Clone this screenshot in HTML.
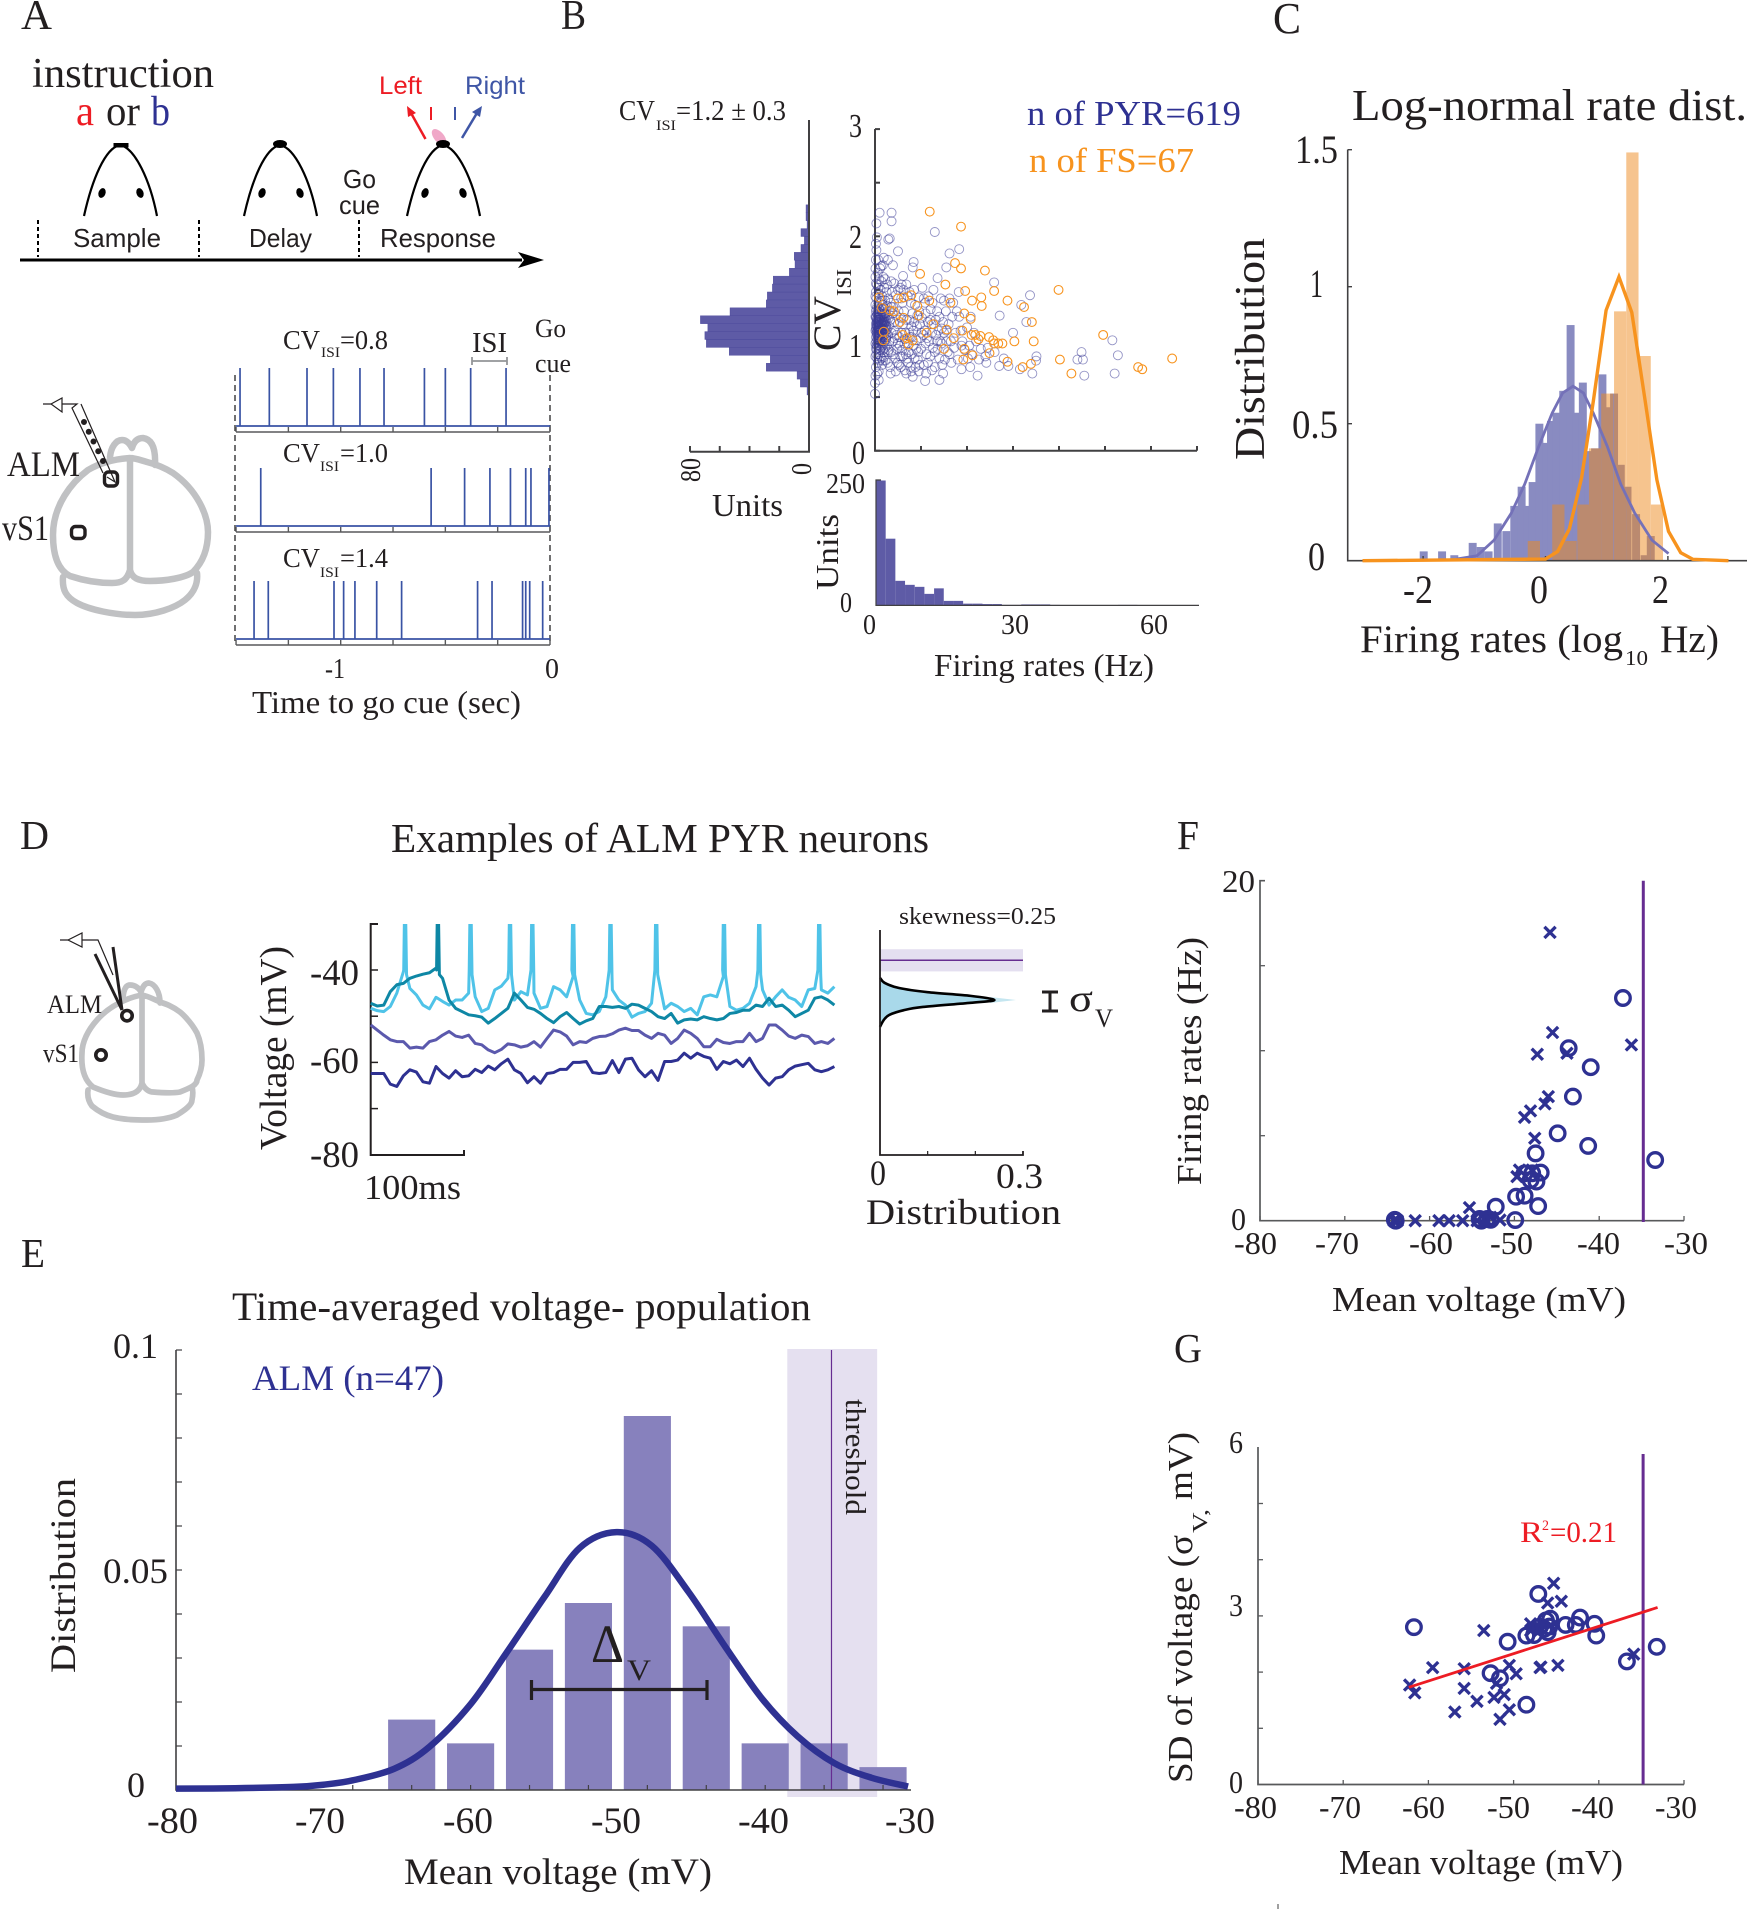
<!DOCTYPE html>
<html lang="en">
<head>
<meta charset="utf-8">
<title>Membrane voltage and firing rate figure</title>
<style>
html,body{margin:0;padding:0;background:#fff}
svg{display:block}
text{font-family:"Liberation Serif","DejaVu Serif",serif;fill:#231f20}
text.sans{font-family:"Liberation Sans","DejaVu Sans",sans-serif}
.ax{stroke:#414042;stroke-width:2;fill:none}
.gb{fill:none;stroke:#c0c1c3;stroke-linejoin:round;stroke-linecap:round}
</style>
</head>
<body>
<svg xmlns="http://www.w3.org/2000/svg" width="1747" height="1909" viewBox="0 0 1747 1909">
<rect width="1747" height="1909" fill="#fff"/>

<!-- PANEL A -->
<g>
<text x="21" y="29" font-size="42" textLength="31">A</text>
<text x="32" y="87" font-size="42" textLength="182">instruction</text>
<text x="76" y="125" font-size="42" textLength="18" style="fill:#ed1c24">a</text>
<text x="106" y="125" font-size="42" textLength="34">or</text>
<text x="151" y="125" font-size="42" textLength="19" style="fill:#2e3192">b</text>
<g>
<path d="M84 216C92 180 105 148 120 145C135 148 150 180 157 216" fill="none" stroke="#000" stroke-width="2.2"/>
<rect x="113.500" y="143" width="15" height="4.500" fill="#000"/>
<ellipse cx="102" cy="193" rx="3.500" ry="5" transform="rotate(20 102 193)"/>
<ellipse cx="140" cy="193" rx="3.500" ry="5" transform="rotate(-20 140 193)"/>
</g>
<g transform="translate(160 0)">
<path d="M84 216C92 180 105 148 120 145C135 148 150 180 157 216" fill="none" stroke="#000" stroke-width="2.2"/>
<ellipse cx="120" cy="144" rx="7" ry="4"/>
<ellipse cx="102" cy="193" rx="3.500" ry="5" transform="rotate(20 102 193)"/>
<ellipse cx="140" cy="193" rx="3.500" ry="5" transform="rotate(-20 140 193)"/>
</g>
<ellipse cx="439" cy="137" rx="5" ry="9.500" fill="#f0a8c8" transform="rotate(-40 439 137)"/>
<g transform="translate(323 0)">
<path d="M84 216C92 180 105 148 120 145C135 148 150 180 157 216" fill="none" stroke="#000" stroke-width="2.2"/>
<ellipse cx="120" cy="144" rx="7" ry="4"/>
<ellipse cx="102" cy="193" rx="3.500" ry="5" transform="rotate(20 102 193)"/>
<ellipse cx="140" cy="193" rx="3.500" ry="5" transform="rotate(-20 140 193)"/>
</g>
<text class="sans" x="379" y="94" font-size="25" textLength="43" style="fill:#ed1c24">Left</text>
<text class="sans" x="465" y="94" font-size="25" textLength="60" style="fill:#3f56a6">Right</text>
<path d="M431 107V120" stroke="#ed1c24" stroke-width="2"/>
<path d="M455 107V120" stroke="#3f56a6" stroke-width="2"/>
<path d="M425.500 139L411 113" stroke="#ed1c24" stroke-width="2.500"/>
<path d="M407 106L416 113L408 117Z" fill="#ed1c24"/>
<path d="M462 138L477 113" stroke="#3f56a6" stroke-width="2.500"/>
<path d="M482 106L480 117L472 112Z" fill="#3f56a6"/>
<text class="sans" x="343" y="188" font-size="26" textLength="33">Go</text>
<text class="sans" x="339" y="214" font-size="26" textLength="41">cue</text>
<text class="sans" x="73" y="247" font-size="26" textLength="88">Sample</text>
<text class="sans" x="249" y="247" font-size="26" textLength="63">Delay</text>
<text class="sans" x="380" y="247" font-size="26" textLength="116">Response</text>
<path d="M38 220V257M199 220V257M359 220V257" stroke="#000" stroke-width="2" stroke-dasharray="4 3"/>
<path d="M20 260H522" stroke="#000" stroke-width="3"/>
<path d="M544 260L518 252L524 260L518 268Z" fill="#000"/>

<g>
<path class="gb" stroke-width="6.500" d="M130 458C115 459 100 463 88 470C72 482 53 505 53 535C53 555 58 570 70 576C85 581 100 583 112 583C122 583 127 580 130 570V458M130 570C132 578 138 581 150 581C165 581 185 578 193 572C203 562 208 548 208 532C208 515 197 490 173 473C165 468 155 464 147 462C140 460 135 458 130 458M110 457C111 447 116 440 122 440C127 440 130 444 132 448C134 441 138 438 143 438C150 439 156 445 155 465M63 577C62 590 66 597 77 603C90 610 115 615 135 615C155 615 175 608 185 600C195 592 198 582 197 573"/>
<rect x="104.500" y="472" width="13" height="14" rx="4" fill="#fff" stroke="#231f20" stroke-width="3.400"/>
<rect x="71.500" y="526.500" width="13.500" height="12" rx="4" fill="none" stroke="#231f20" stroke-width="3.400"/>
<path d="M43 404H51M62 404H77L72 408L103 473M81 404L115 482L107 477" fill="none" stroke="#231f20" stroke-width="1.200"/>
<path d="M51 404L62 398V412Z" fill="#fff" stroke="#231f20" stroke-width="1.200"/>
<path d="M84 422L103 461" stroke="#231f20" stroke-width="6" stroke-linecap="round" stroke-dasharray="0 10.840"/>
<text x="7" y="476" font-size="36" textLength="73">ALM</text>
<text x="2" y="540" font-size="36" textLength="47">vS1</text>
</g>

<text x="283" y="349" font-size="27" textLength="37">CV</text>
<text x="321" y="357" font-size="15" textLength="19">ISI</text>
<text x="340" y="349" font-size="27" textLength="48">=0.8</text>
<text x="283" y="462" font-size="27" textLength="37">CV</text>
<text x="320" y="471" font-size="15" textLength="19">ISI</text>
<text x="340" y="462" font-size="27" textLength="48">=1.0</text>
<text x="283" y="567" font-size="27" textLength="37">CV</text>
<text x="320" y="577" font-size="15" textLength="19">ISI</text>
<text x="340" y="567" font-size="27" textLength="48">=1.4</text>
<text x="472" y="352" font-size="28" textLength="35">ISI</text>
<path d="M472 361H507M472 357V365M507 357V365" fill="none" stroke="#939598" stroke-width="1.800"/>
<text x="535" y="337" font-size="26" textLength="31">Go</text>
<text x="535" y="372" font-size="26" textLength="36">cue</text>
<path d="M235 375V645M550 375V645" fill="none" stroke="#414042" stroke-width="1.500" stroke-dasharray="6 4"/>
<g id="raster"></g>
<text x="325" y="678" font-size="29" textLength="20">-1</text>
<text x="545" y="678" font-size="29" textLength="14">0</text>
<text x="252" y="713" font-size="32" textLength="269">Time to go cue (sec)</text>
</g>

<!-- PANEL B -->
<g>
<text x="561" y="29" font-size="42" textLength="25">B</text>
<text x="619" y="120" font-size="28" textLength="36">CV</text>
<text x="656" y="130" font-size="15" textLength="20">ISI</text>
<text x="676" y="120" font-size="28" textLength="110">=1.2 ± 0.3</text>
<g id="histCv"></g>
<g id="scatterB"></g>
<g id="histRate"></g>
<text x="849" y="137" font-size="34" textLength="13">3</text>
<text x="849" y="248" font-size="34" textLength="13">2</text>
<text x="849" y="357" font-size="34" textLength="13">1</text>
<text x="852" y="464" font-size="34" textLength="13">0</text>
<text transform="translate(840 351) rotate(-90)" font-size="39" textLength="55">CV</text>
<text transform="translate(851 296) rotate(-90)" font-size="21" textLength="27">ISI</text>
<text x="1027" y="125" font-size="35" textLength="214" style="fill:#2e3192">n of PYR=619</text>
<text x="1029" y="172" font-size="35" textLength="165" style="fill:#f7931e">n of FS=67</text>
<text transform="translate(700 482) rotate(-90)" font-size="28" textLength="24">80</text>
<text transform="translate(811 475) rotate(-90)" font-size="28" textLength="12">0</text>
<text x="712" y="516" font-size="32" textLength="71">Units</text>
<text x="826" y="493" font-size="28" textLength="39">250</text>
<text x="840" y="612" font-size="28" textLength="12">0</text>
<text transform="translate(838 590) rotate(-90)" font-size="32" textLength="76">Units</text>
<text x="863" y="634" font-size="29" textLength="13">0</text>
<text x="1001" y="634" font-size="29" textLength="28">30</text>
<text x="1140" y="634" font-size="29" textLength="28">60</text>
<text x="934" y="676" font-size="32" textLength="220">Firing rates (Hz)</text>
</g>

<!-- PANEL C -->
<g>
<text x="1273" y="33" font-size="44" textLength="28">C</text>
<text x="1352" y="120" font-size="44" textLength="395">Log-normal rate dist.</text>
<g id="chartC"></g>
<text x="1295" y="163" font-size="40" textLength="43">1.5</text>
<text x="1310" y="297" font-size="40" textLength="13">1</text>
<text x="1292" y="438" font-size="40" textLength="46">0.5</text>
<text x="1308" y="570" font-size="40" textLength="17">0</text>
<text x="1403" y="603" font-size="40" textLength="30">-2</text>
<text x="1530" y="603" font-size="40" textLength="18">0</text>
<text x="1652" y="603" font-size="40" textLength="17">2</text>
<text transform="translate(1264 460) rotate(-90)" font-size="42" textLength="222">Distribution</text>
<text x="1360" y="652" font-size="39" textLength="263">Firing rates (log</text>
<text x="1625" y="665" font-size="21" textLength="23">10</text>
<text x="1660" y="652" font-size="39" textLength="59">Hz)</text>
</g>

<!-- PANEL D -->
<g>
<text x="20" y="849" font-size="41" textLength="29">D</text>
<text x="391" y="852" font-size="41" textLength="538">Examples of ALM PYR neurons</text>
<g>
<path class="gb" stroke-width="5.700" d="M142 995C130 997 110 1005 97 1020C88 1030 82 1042 82 1053C81 1068 84 1080 93 1087C105 1092 115 1095 123 1095C133 1095 140 1092 142 1083V995M142 1083C145 1090 150 1092 153 1092C165 1093 175 1093 180 1092C190 1088 197 1085 197 1080C201 1072 202 1065 202 1060C202 1050 201 1042 197 1033C190 1020 180 1012 180 1012C172 1006 166 1004 160 1002C153 999 148 996 142 995M123 1000C123 992 125 985 130 985C135 985 139 988 141 992C143 986 145 983 149 983C155 984 160 992 160 1003M88 1090C87 1097 89 1102 92 1106C98 1111 105 1115 113 1117C125 1120 137 1120 147 1120C160 1120 170 1118 177 1115C185 1110 192 1105 192 1100C193 1095 193 1090 192 1087"/>
<circle cx="127" cy="1015.700" r="5.200" fill="#fff" stroke="#231f20" stroke-width="3.600"/>
<circle cx="101" cy="1055" r="5.200" fill="none" stroke="#231f20" stroke-width="3.600"/>
<path d="M60 940H68M82 940H98L113 975" fill="none" stroke="#231f20" stroke-width="1.200"/>
<path d="M68 940L82 933V947Z" fill="#fff" stroke="#231f20" stroke-width="1.200"/>
<path d="M95 954L122 1010M113 947L122 1010" fill="none" stroke="#231f20" stroke-width="3"/>
<text x="47" y="1013" font-size="26" textLength="55">ALM</text>
<text x="43" y="1062" font-size="26" textLength="36">vS1</text>
</g>
<text transform="translate(286 1150) rotate(-90)" font-size="38" textLength="204">Voltage (mV)</text>
<text x="310" y="985" font-size="37" textLength="49">-40</text>
<text x="310" y="1073" font-size="37" textLength="49">-60</text>
<text x="310" y="1167" font-size="37" textLength="49">-80</text>
<text x="364" y="1199" font-size="35" textLength="97">100ms</text>
<g id="traces"></g>
<g id="sideDist"></g>
<text x="899" y="924" font-size="24" textLength="157">skewness=0.25</text>
<path d="M1042 992H1058M1042 1011H1058M1050 992V1011" fill="none" stroke="#231f20" stroke-width="3"/>
<text x="1069" y="1011" font-size="38" textLength="24">σ</text>
<text x="1095" y="1027" font-size="26" textLength="18">V</text>
<text x="870" y="1185" font-size="36" textLength="16">0</text>
<text x="996" y="1188" font-size="36" textLength="47">0.3</text>
<text x="866" y="1224" font-size="36" textLength="195">Distribution</text>
</g>

<!-- PANEL E -->
<g>
<text x="21" y="1267" font-size="41" textLength="24">E</text>
<text x="232" y="1320" font-size="40" textLength="579">Time-averaged voltage- population</text>
<g id="chartE"></g>
<text transform="translate(846 1399) rotate(90)" font-size="28" textLength="116">threshold</text>
<text x="252" y="1390" font-size="36" textLength="192" style="fill:#2e3192">ALM (n=47)</text>
<text x="113" y="1358" font-size="36" textLength="45">0.1</text>
<text x="103" y="1583" font-size="36" textLength="65">0.05</text>
<text x="127" y="1797" font-size="36" textLength="18">0</text>
<text transform="translate(75 1673) rotate(-90)" font-size="36" textLength="195">Distribution</text>
<text x="147" y="1833" font-size="37" textLength="51">-80</text>
<text x="295" y="1833" font-size="37" textLength="50">-70</text>
<text x="443" y="1833" font-size="37" textLength="50">-60</text>
<text x="591" y="1833" font-size="37" textLength="50">-50</text>
<text x="738" y="1833" font-size="37" textLength="51">-40</text>
<text x="885" y="1833" font-size="37" textLength="50">-30</text>
<text x="404" y="1884" font-size="37" textLength="308">Mean voltage (mV)</text>
<text x="591" y="1662" font-size="54" textLength="33">Δ</text>
<text x="627" y="1680" font-size="30" textLength="24">V</text>
<path d="M531.500 1689.500H707M531.500 1680V1700M707 1680V1700" fill="none" stroke="#231f20" stroke-width="3.200"/>
</g>

<!-- PANEL F -->
<g>
<text x="1177" y="849" font-size="41" textLength="22">F</text>
<g id="chartF"></g>
<text x="1222" y="892" font-size="32" textLength="33">20</text>
<text x="1231" y="1230" font-size="32" textLength="15">0</text>
<text transform="translate(1201 1185) rotate(-90)" font-size="35" textLength="248">Firing rates (Hz)</text>
<text x="1234" y="1254" font-size="32" textLength="43">-80</text>
<text x="1315" y="1254" font-size="32" textLength="44">-70</text>
<text x="1409" y="1254" font-size="32" textLength="44">-60</text>
<text x="1490" y="1254" font-size="32" textLength="43">-50</text>
<text x="1577" y="1254" font-size="32" textLength="43">-40</text>
<text x="1664" y="1254" font-size="32" textLength="44">-30</text>
<text x="1332" y="1311" font-size="35" textLength="294">Mean voltage (mV)</text>
</g>

<!-- PANEL G -->
<g>
<text x="1174" y="1362" font-size="41" textLength="28">G</text>
<g id="chartG"></g>
<text x="1520" y="1542" font-size="30" textLength="23" style="fill:#ed1c24">R</text>
<text x="1542" y="1530" font-size="15" textLength="7" style="fill:#ed1c24">2</text>
<text x="1550" y="1542" font-size="30" textLength="67" style="fill:#ed1c24">=0.21</text>
<text x="1229" y="1453" font-size="32" textLength="14">6</text>
<text x="1229" y="1616" font-size="32" textLength="14">3</text>
<text x="1229" y="1793" font-size="32" textLength="14">0</text>
<text transform="translate(1192 1783) rotate(-90)" font-size="35" textLength="248">SD of voltage (σ</text>
<text transform="translate(1207 1533) rotate(-90)" font-size="21" textLength="24">V,</text>
<text transform="translate(1192 1500) rotate(-90)" font-size="35" textLength="68">mV)</text>
<text x="1234" y="1818" font-size="32" textLength="43">-80</text>
<text x="1319" y="1818" font-size="32" textLength="42">-70</text>
<text x="1402" y="1818" font-size="32" textLength="43">-60</text>
<text x="1487" y="1818" font-size="32" textLength="43">-50</text>
<text x="1571" y="1818" font-size="32" textLength="43">-40</text>
<text x="1655" y="1818" font-size="32" textLength="42">-30</text>
<text x="1339" y="1874" font-size="35" textLength="284">Mean voltage (mV)</text>
<path d="M1278 1904V1909" stroke="#414042" stroke-width="1"/>
</g>
</svg>

<script>
/* ---------- data ---------- */
const rasterSpikesRow1 = [-1.481,-1.341,-1.161,-1.035,-.908,-.793,-.6,-.5,-.379,-.21];
const rasterSpikesRow2 = [-1.382,-.568,-.408,-.287,-.189,-.116,-.091,-.005];
const rasterSpikesRow3 = [-1.414,-1.346,-1.032,-.986,-.932,-.828,-.709,-.346,-.277,-.131,-.116,-.097,-.035];
const rasterTicks = [-1.5,-1.25,-1,-.75,-.5,-.25,0];

const cvBinStart = .52;
const cvBinWidth = .0739;
const cvCounts = [1.3,5.8,8,28.7,26,53.6,69,70,68,73,53.1,28.7,28,24.6,24,13.2,9.4,9.9,5.4,3.1,5.4,1.3,2,2];

const rateBinWidth = 2.1;
const rateCounts = [249,133,49,41,37,23,34,9,9,3.5,3.5,2.7,2.7,1,1,2,2,2,1,0,0,.5,0,0,.5,1,1,0,0,0,.5,0,0];

const fsRate = [11.9,18.7,17.4,18.7,9.8,23.9,15.3,19.6,25.9,39.9,.9,5,6.3,7.9,11.8,21.1,23.1,23.2,28.8,16.4,9.2,1.5,3.2,4.1,9.5,19.4,20.8,32.4,34.1,6.2,5.4,12.7,15.6,1.9,11.2,19,21,17.1,21.8,22.9,22.5,24.8,25.7,26.8,27.7,30.3,34.5,6,6.9,8.2,7.3,1.8,15,19.4,49.6,24.9,21.2,19.2,28.8,40.2,33.9,32.1,64.6,57.2,58.1,42.7,25.9];
const fsCv = [2.23,2.09,1.75,1.7,1.65,1.68,1.55,1.49,1.49,1.5,1.43,1.42,1.43,1.45,1.4,1.4,1.43,1.35,1.4,1.38,1.35,1.33,1.31,1.3,1.26,1.28,1.23,1.34,1.2,1.24,1.2,1.18,1.13,1.11,1.1,1.12,1.08,1.05,1.08,1.07,1.04,1.06,1.03,1,1,1.02,1.02,1.08,1.05,1.03,.99,1.03,.95,.95,1.08,.91,.89,.85,.83,.85,.81,.78,.86,.78,.76,.72,1];

const pyrPoints = [
[1,2.22],[3.6,2.22],[3.6,2.14],[.3,2.12],[13,2.04],[2.9,1.97],[3.2,1.98],[.4,1.99],[.2,1.93],[.3,1.87],[5,1.86],[18.3,1.88],[16.2,1.84],[.2,1.78],[1.9,1.8],[2.8,1.78],[3.9,1.73],[1.7,1.73],[8.4,1.76],[8.2,1.71],[15.5,1.71],[13.6,1.61],[6.1,1.63],[25.9,1.57],[33.7,1.45],[31.8,1.36],[27.1,1.26],[32.9,1.2],[30,1.1],[44.9,.92],[51.6,1.03],[52.8,.89],[44,.85],[45.2,.85],[52.1,.72],[45.5,.7],[35.1,.88],[35,.84],[34.2,.72],[31.5,.76],[29,.79],[27,.79],[24.2,.82],[22.3,.7],[20.7,.78],[18.8,.76],[14,.66],[10.9,.65],[11.1,.72],[8.2,.69],[.8,.66],[0,.63],[0,.53],
[.3,1.02],[.5,1.1],[.8,1.15],[1,1.2],[1.3,1.12],[1.6,1.18],[1.9,1.25],[2.2,1.14],[2.5,1.2],[2.8,1.08],[.2,1.18],[.6,1.24],[1.1,1.28],[1.5,1.05],[1.8,1.1],[2.1,1.02],[2.4,1.28],[3,1.16],[3.3,1.22],[.4,.95],[.9,1],[1.2,.94],[1.7,.98],[2,.92],[2.6,.98],[3.1,1.02],[.1,.88],[.7,.9],[1.4,.86],[2.3,.84],[.2,1.3],[.5,1.35],[.9,1.38],[1.3,1.33],[1.7,1.36],[2.2,1.4],[2.7,1.35],[3.2,1.3],[.3,1.42],[.8,1.47],[1.2,1.5],[1.6,1.44],[2,1.52],[2.5,1.48],[.4,1.55],[.9,1.6],[1.4,1.58],[.1,1.62],[.6,1.66],[1.1,1.7],[.2,1.48],[1.8,1.62],
[.4,1.08],[.7,1.13],[1,1.1],[1.2,1.17],[1.5,1.14],[1.8,1.16],[2.1,1.2],[2.3,1.09],[2.6,1.13],[.1,1.12],[.3,1.16],[.6,1.19],[.9,1.22],[1.2,1.24],[1.5,1.22],[1.7,1.27],[2,1.18],[2.4,1.16],[.5,1.04],[.8,1.07],[1.1,1.05],[1.4,1.09],[1.7,1.06],[2,1.08],[.2,1.06],[.5,1.28],[.8,1.3],[1.4,1.27],[.3,.98],[.6,1.01],[1,1.03],[1.3,1],[1.6,1.02],[2.4,1.04],[.6,1.12],[.9,1.16],[1.1,1.13],[1.3,1.2],[1.5,1.17],[.4,1.22],[.7,1.2],[1,1.25],[.4,1.12],[.8,1.1],[1.2,1.08],[1.6,1.1],[2,1.13],[2.2,1.25],[.5,.86],[1,.84],[1.5,.8],[.2,.78],[.8,.74],[1.9,.87],[.1,.7],[.5,.72],[2.8,.82],[3.3,.78],[.3,1.25],[.1,1.36],[.1,1.44],[.7,1.52],[1.5,1.4],[2.9,1.42],[3.4,1.38],[3.6,1.1],[3.8,1.28],[.2,1.56],[2.2,1.6],[2.7,1.55],[1.3,1.72],[.7,1.78],[.1,1.7],
[.2,1.14],[.5,1.16],[.7,1.08],[.9,1.12],[1.1,1.18],[1.3,1.15],[1.5,1.1],[1.7,1.13],[1.9,1.19],[2.1,1.11],[2.3,1.17],[2.5,1.06],[.3,1.2],[.6,1.15],[.8,1.22],[1,1.16],[1.2,1.12],[1.4,1.18],[1.6,1.24],[1.8,1.21],[.2,1.24],[.4,1.18],[.6,1.06],[.8,1.18],[1,1.07],[1.2,1.02],[1.4,1.13],[1.6,1.07],[1.8,1.03],[2,1.22],[.3,1.1],[.5,1.2],[.7,1.26],[.9,1.08],[1.1,1.22],[1.3,1.25],[1.5,1.3],[1.7,1.2],[1.9,1.33],[2.1,1.28],[.1,1.25],[.3,1.32],[.6,1.3],[.9,1.32],[1.2,1.4],[1.6,1.32],[2.6,1.26],[3,1.24],[.2,.95],[.5,.98],[.8,.96],[1.1,.98],[1.4,.96],[1.8,.94],[2.2,.96],[2.8,.92],[.1,1],[.3,.9],[.6,.82],[1.2,.88],[1.7,.84],[3,.94],
[3.5,.92],[4,1.34],[4.2,1.05],[4.5,1.45],[4.8,.95],[5,1.18],[5.2,.8],[5.5,1.52],[5.8,1.1],[6,.88],[6.3,1.3],[6.5,.75],[6.8,1.55],[7,1],[7.2,.82],[7.5,1.22],[7.8,1.38],[8,.9],[8.3,1.12],[8.5,1.5],[8.8,.78],[9,1.03],[9.3,.85],[9.5,1.43],[9.8,1.18],[10,.95],[10.3,1.52],[10.6,.8],[11,1.28],[11.3,1.05],[11.6,1.44],[12,.88],[12.3,1.18],[12.7,1.5],[13,.78],[13.3,1.08],[13.6,.95],[14,1.25],[14.3,1.42],[14.6,.8],[15,1.1],[15.4,1.3],[15.8,.92],[16,1.18],[16.5,1.02],[17,1.38],[17.5,1.1],[18,.85],[18.3,1.25],[19,1.02],[19.5,.94],[20,1.15],[20.5,.98],[21,.9],[21.5,1.1],[22,1.02],[23,.95],[24,.88],
[3.7,1.48],[4.1,1.2],[4.4,.86],[4.7,1.08],[5.1,1.3],[5.4,.98],[5.7,1.42],[6.1,1.18],[6.4,1],[6.7,.9],[7.1,1.44],[7.4,1.1],[7.7,.78],[8.1,1.28],[8.4,.98],[8.7,1.36],[9.1,1.16],[9.4,.92],[9.9,1.05],[10.2,1.24],[10.8,1.12],[11.2,.9],[11.8,1.02],[12.1,1.32],[12.6,.96],[13.2,1.22],[13.8,1.12],[14.2,1.02],[14.8,1.2],[15.2,.85],[16.2,1.42],[16.8,1.25],[17.8,1.3],[18.6,1.12],[3.9,1.02],[4.3,1.12],[4.9,.82],[5.3,1.06],[5.6,1.24],[5.9,.94],[6.2,1.5],[6.6,1.1],[6.9,1.22],[7.3,.92],[7.6,1.06],[7.9,1.16],[8.6,.86],[9.2,1.26],[9.7,.8],[10.5,1.08],[10.9,1.38],[11.5,1.2],[12.4,1.1],[13.5,1.02],[14.5,1.14],[15.6,1.02],[17.2,.96],[18.8,.98],[20.2,.86],[20.8,1.25],[22.6,.85],[24.5,.96],[26,.92],[28,.86],
[3.6,1.34],[4,.9],[4.6,1.26],[5,1],[5.5,.88],[6,1.38],[6.5,1.04],[7,.86],[7.5,1.48],[8,1.06],[8.5,1.2],[9,.95],[9.6,1.3],[10.1,1.1],[10.6,1.42],[11,1],[11.5,.82],[12,1.22],[12.5,1.38],[13,.92],[13.5,1.3],[14,.86],[14.5,1],[15,1.4],[15.5,1.12],[16.2,.9],[3.5,1.58],[4.2,1.56],[5,1.5],[5.8,1.55],[3.4,.72],[4.5,.74],[5.6,.78],[6.8,.72],[7.9,.74],[9.5,.74],[12.4,.75],[14.8,.72],[16.6,.82],[18.2,1.48]
];

const cBlueCenters = [-1.99,-1.69,-1.49,-1.19,-1.06,-.93,-.78,-.64,-.51,-.39,-.29,-.21,-.1,.01,.09,.18,.29,.41,.51,.61,.71,.81,.93,1.02,1.12,1.23,1.34,1.48,1.62,1.72];
const cBlueHeights = [.034,.034,.02,.065,.05,.034,.136,.108,.2,.27,.2,.287,.5,.43,.51,.54,.62,.86,.54,.65,.4,.41,.68,.56,.61,.35,.27,.17,.02,.09];
const cOrangeCenters = [-.19,.21,.41,.62,.81,1.01,1.22,1.42,1.62,1.82];
const cOrangeHeights = [.072,.205,.072,.205,.41,.61,.91,1.49,.747,.205];
const cBlueCurveX = [-1.45,-1.12,-.84,-.56,-.34,-.11,.11,.28,.45,.62,.78,1.01,1.23,1.46,1.74,2.01];
const cBlueCurveY = [.006,.018,.075,.173,.279,.417,.539,.612,.637,.612,.539,.417,.279,.173,.075,.026];
const cOrangeCurveX = [-2.99,0,.2,.39,.59,.78,.99,1.2,1.41,1.62,1.82,2.01,2.21,2.41,2.99];
const cOrangeCurveY = [0,.006,.034,.116,.303,.58,.914,1.036,.906,.596,.295,.107,.029,.005,0];

const traceStepMs = 7;
const traceNavy = [-62.4,-62.4,-62.4,-64.7,-65.2,-62.9,-61.6,-62.1,-64.2,-64.5,-60.9,-62.4,-63.4,-61.8,-63.1,-62.9,-61.5,-62.2,-60.8,-61.6,-60.3,-59.3,-61.6,-62.4,-64.4,-63.1,-64.5,-62.4,-62.2,-61.5,-61.5,-60,-60,-59.8,-62.2,-62.4,-62.2,-59.6,-62.2,-59.3,-59.1,-61.6,-63.1,-61.8,-63.9,-59.8,-59.8,-59.5,-58,-59.1,-58,-58.7,-59.1,-61.5,-59.8,-60.3,-59.5,-60.9,-59.1,-61.5,-63.4,-64.9,-63.4,-63.1,-61.6,-60.8,-60.5,-60.2,-61.6,-62,-61.6,-60.9];
const tracePurple = [-51.9,-53,-54.1,-55.1,-55.5,-55.5,-56.9,-56.7,-56.9,-55.5,-55.1,-54.1,-53.3,-54.3,-54.6,-54.1,-55.9,-56.2,-57.3,-57.9,-57.2,-56,-56.2,-56.7,-56.4,-55.5,-56.7,-54.8,-53,-53.4,-54.3,-56.2,-55.5,-55.7,-54.8,-54.4,-54.3,-53.8,-53,-52.6,-53.1,-53.1,-54.1,-54.8,-53.7,-54.1,-55.9,-54.8,-53,-53.7,-54.8,-56.6,-56.6,-55,-55.7,-55.9,-55.5,-55.5,-53.7,-55.5,-54.8,-51.9,-51.9,-53,-54.3,-54.8,-54.1,-54.4,-55.9,-55.5,-55.9,-54.8];
const traceTeal = [-47.2,-47.8,-47.6,-44.7,-43.2,-42.9,-41.8,-41.3,-40.9,-40.6,-39.6,-41.8,-46.5,-48.3,-49,-49.7,-49.9,-50.2,-51.5,-50.5,-49.4,-48.3,-45,-46.5,-48.1,-48.5,-49.4,-50.5,-51.4,-50.1,-49.2,-50.5,-51.7,-51,-50.5,-47.9,-47.9,-48.1,-47.9,-48.3,-47.4,-47.6,-48.3,-49,-50.1,-50.5,-49.4,-51.5,-50.8,-50.6,-50.8,-50.1,-50.5,-50.8,-50.5,-49.4,-49.2,-48.7,-48.7,-47.6,-47.9,-46.1,-47.9,-47.6,-48.7,-50.1,-49.4,-48.7,-46.1,-45.8,-46.5,-47.6];
const traceCyan = [-48.3,-48.8,-49,-47.9,-45,-40.4,-44,-45.4,-47.6,-48.4,-45.9,-46.8,-47.6,-46.5,-46.5,-45,-45.8,-49,-48.3,-44.3,-43.5,-41.8,-46.5,-44.7,-45.4,-45,-48.3,-47.9,-43.6,-44.3,-45.8,-41.4,-46.5,-49.4,-49.7,-49,-45.8,-44.3,-46.5,-47.6,-50.2,-49.4,-49,-47.2,-41.4,-48.4,-47.2,-47.9,-49,-48.3,-49.7,-45.8,-45.4,-45.8,-41.4,-47.9,-48.7,-48.3,-47.2,-43.6,-44.3,-47.6,-45.8,-44.3,-45.9,-46.5,-47.9,-44.3,-44,-44.3,-45,-43.6];
const tealSpikeTimes = [72];
const cyanSpikeTimes = [36.8,107,149.3,173.2,217,257,306,378.6,416.4,480.7];
const voltageTicks = [-30,-40,-50,-60,-70,-80];

const sideVoltage = [-41.7,-42.8,-43.9,-44.8,-45.6,-46.5,-47.1,-48,-48.7,-49.7,-50.8,-52.3];
const sideDensity = [0,.01,.04,.1,.19,.24,.19,.09,.05,.02,.008,0];
const sideThreshold = -37.9;
const sideThresholdBand = [-35.5,-40.3];

const eBinCenters = [-64,-60,-56,-52,-48,-44,-40,-36,-32];
const eBinHeights = [.016,.0106,.0319,.0425,.085,.0372,.0106,.0106,.0052];
const eBinWidth = 3.2;
const eCurveX = [-80,-76,-72,-70,-68,-65.2,-62.8,-60,-57.6,-55,-52.6,-50.1,-47.7,-45.2,-42.7,-40.2,-37.8,-35.3,-32.8,-30.3];
const eCurveY = [.0003,.0004,.0007,.0012,.0022,.0048,.0098,.0195,.031,.0438,.055,.0586,.0555,.045,.0325,.0207,.0122,.0061,.0028,.0008];
const eThreshold = -35.5;
const eThresholdBand = [-38.5,-32.4];

const fCircleV = [-37.2,-33.4,-43.6,-41,-43.1,-44.9,-41.3,-47.5,-46.9,-48.8,-48.1,-47.4,-47.9,-49.8,-48.8,-47.2,-52.2,-49.9,-64,-64.1,-54.1,-53.2,-52.8,-53.9];
const fCircleRate = [13.1,3.57,10.15,9.03,7.3,5.14,4.4,3.96,2.83,2.79,2.39,2.3,2.79,1.41,1.47,.86,.82,.04,0,.05,.1,.1,.05,0];
const fCrossV = [-45.8,-45.5,-36.2,-47.3,-43.8,-46,-46.4,-48.1,-48.8,-47.6,-49.4,-49.7,-47.9,-55.3,-61.7,-58.9,-57.7,-56.1,-64.2,-63.8,-51.7,-54.4,-53.5,-52.8];
const fCrossRate = [16.96,11.07,10.34,9.79,9.85,7.3,6.87,6.46,6.08,4.85,2.98,2.59,2.98,.77,0,0,0,0,0,0,.04,0,.1,.2];
const gCircleV = [-61.7,-47.1,-50.7,-48.5,-47.6,-46.9,-46.2,-45.7,-46,-43.9,-42.7,-42.2,-40.5,-40.3,-52.7,-51.6,-48.5,-36.7,-33.2,-46.4,-45.8];
const gCircleSd = [2.8,3.39,2.54,2.65,2.66,2.81,2.92,2.95,2.71,2.84,2.84,2.97,2.86,2.65,1.98,1.89,1.42,2.19,2.45,2.77,2.81];
const gCrossV = [-45.3,-46,-44.4,-53.5,-48,-59.5,-55.8,-62.2,-61.6,-55.8,-54.3,-56.9,-52.3,-51.1,-50.5,-51.6,-50.5,-49.7,-52,-46.8,-44.8,-46.9,-35.9,-48,-47.8,-47.1];
const gCrossSd = [3.58,3.23,3.26,2.74,2.86,2.08,2.06,1.77,1.63,1.71,1.48,1.29,1.55,1.6,1.33,1.16,2.12,1.97,1.8,2.09,2.12,2.08,2.32,2.74,2.77,2.81];
const gFitV = [-62.3,-33.1];
const gFitSd = [1.73,3.15];
const popThreshold = -34.8;
const voltageAxisTicks = [-80,-70,-60,-50,-40,-30];

/* ---------- helpers ---------- */
const NS = 'http://www.w3.org/2000/svg';
function add(parent, tag, attrs) {
  const el = document.createElementNS(NS, tag);
  for (const k in attrs) el.setAttribute(k, attrs[k]);
  parent.appendChild(el);
  return el;
}
function polyD(xs, ys) {
  return xs.map((x, i) => (i ? 'L' : 'M') + x.toFixed(2) + ' ' + ys[i].toFixed(2)).join('');
}
function smoothD(xs, ys) {
  let d = 'M' + xs[0].toFixed(2) + ' ' + ys[0].toFixed(2);
  for (let i = 0; i < xs.length - 1; i++) {
    const a = Math.max(i - 1, 0), b = Math.min(i + 2, xs.length - 1);
    d += 'C' + (xs[i] + (xs[i + 1] - xs[a]) / 6).toFixed(2) + ' ' + (ys[i] + (ys[i + 1] - ys[a]) / 6).toFixed(2) + ' '
       + (xs[i + 1] - (xs[b] - xs[i]) / 6).toFixed(2) + ' ' + (ys[i + 1] - (ys[b] - ys[i]) / 6).toFixed(2) + ' '
       + xs[i + 1].toFixed(2) + ' ' + ys[i + 1].toFixed(2);
  }
  return d;
}
const $ = id => document.getElementById(id);

/* ---------- panel A raster ---------- */
const rasterX = t => 550 + t * 209.3;
[rasterSpikesRow1, rasterSpikesRow2, rasterSpikesRow3].forEach((spikes, r) => {
  const top = [368, 468, 581][r], base = [426, 526, 639][r], axisY = [432, 532, 645][r];
  spikes.forEach(t => {
    const el = add($('raster'), 'line', {x1: rasterX(t), x2: rasterX(t), y1: top, y2: base, stroke: '#3953a4', 'stroke-width': 1.7});
    
    
  });
  const bl = add($('raster'), 'line', {x1: rasterX(-1.5), x2: rasterX(0), y1: base, y2: base, stroke: '#3953a4', 'stroke-width': 1.7});
  
  
  const ax = add($('raster'), 'line', {x1: rasterX(-1.5), x2: rasterX(0), y1: axisY, y2: axisY, stroke: '#58595b', 'stroke-width': 1.6});
  
  
  rasterTicks.forEach(t => {
    const tk = add($('raster'), 'line', {x1: rasterX(t), x2: rasterX(t), y1: axisY, y2: axisY - 5, stroke: '#58595b', 'stroke-width': 1.4});
    
    
  });
});

/* ---------- panel B ---------- */
const yCv = c => 450.7 - c * 107.2;
const xUnits = u => 809 - u * 119 / 80;
cvCounts.forEach((u, i) => {
  const y2 = yCv(cvBinStart + i * cvBinWidth), y1 = yCv(cvBinStart + (i + 1) * cvBinWidth);
  const el = add($('histCv'), 'rect', {x: xUnits(u), y: y1, width: 809 - xUnits(u), height: y2 - y1, fill: '#5e5ba6', stroke: '#4a479a', 'stroke-width': .4});
  
  
});
{
  const ax = add($('histCv'), 'path', {class: 'ax', d: 'M809 120V451.700H690'});
  
  
  [0, 20, 40, 60, 80].forEach(u => {
    const tk = add($('histCv'), 'line', {class: 'ax', x1: xUnits(u), x2: xUnits(u), y1: 451.7, y2: 446});
    
    
  });
}
const xRate = r => 875 + r * 4.6;
{
  const ax = add($('scatterB'), 'path', {class: 'ax', d: 'M875 129V450.700H1197'});
  
  
  [0, .5, 1, 1.5, 2, 2.5, 3].forEach(c => {
    const tk = add($('scatterB'), 'line', {class: 'ax', x1: 875, x2: 880, y1: yCv(c), y2: yCv(c)});
    
    
  });
  [10, 20, 30, 40, 50, 60, 70].forEach(r => {
    const tk = add($('scatterB'), 'line', {class: 'ax', x1: xRate(r), x2: xRate(r), y1: 450.7, y2: 446});
    
    
  });
}
pyrPoints.forEach(p => {
  const el = add($('scatterB'), 'circle', {cx: xRate(p[0]), cy: yCv(p[1]), r: 4.5, fill: 'none', stroke: '#3b3a96', 'stroke-opacity': .55, 'stroke-width': .9});
  
  
});
fsRate.forEach((r, i) => {
  const el = add($('scatterB'), 'circle', {cx: xRate(r), cy: yCv(fsCv[i]), r: 4.4, fill: 'none', stroke: '#f7931e', 'stroke-width': 1.1});
  
  
});
const xRateHist = r => 876 + r * 4.61;
const yRateHist = c => 605.4 - c * 125.4 / 250;
rateCounts.forEach((c, i) => {
  const x = xRateHist(i * rateBinWidth);
  const el = add($('histRate'), 'rect', {x: x, y: yRateHist(c), width: rateBinWidth * 4.61, height: c * 125.4 / 250, fill: '#5e5ba6'});
  
  
});
{
  const ax = add($('histRate'), 'path', {fill: 'none', stroke: '#414042', 'stroke-width': 1.2, d: 'M881 480H876V605.400H1199'});
  
  
}

/* ---------- panel C ---------- */
const xC = v => 1545.5 + v * 61.2;
const yC = h => 560.7 - h * 274;
{
  const blue = add($('chartC'), 'g', {opacity: .56});
  
  
  cBlueCenters.forEach((c, i) => {
    const el = add(blue, 'rect', {x: xC(c - .065), y: yC(cBlueHeights[i]), width: .13 * 61.2, height: cBlueHeights[i] * 274, fill: '#2e3192'});
    
    
  });
  const orange = add($('chartC'), 'g', {opacity: .5});
  
  
  cOrangeCenters.forEach((c, i) => {
    const el = add(orange, 'rect', {x: xC(c - .1), y: yC(cOrangeHeights[i]), width: .2 * 61.2, height: cOrangeHeights[i] * 274, fill: '#ee8a20'});
    
    
  });
  const ax = add($('chartC'), 'path', {fill: 'none', stroke: '#414042', 'stroke-width': 1.6, d: 'M1347.700 149.600V560.700H1747'});
  
  
  [0, .5, 1, 1.5].forEach(h => {
    const tk = add($('chartC'), 'line', {x1: 1347.7, x2: 1352, y1: yC(h), y2: yC(h), stroke: '#414042', 'stroke-width': 1.4});
    
    
  });
  [-2, 0, 2].forEach(v => {
    const tk = add($('chartC'), 'line', {x1: xC(v), x2: xC(v), y1: 560.7, y2: 556, stroke: '#414042', 'stroke-width': 1.4});
    
    
  });
  const bc = add($('chartC'), 'path', {d: polyD(cBlueCurveX.map(xC), cBlueCurveY.map(yC)), fill: 'none', stroke: '#7471b8', 'stroke-width': 2.8});
  
  
  const oc = add($('chartC'), 'path', {d: polyD(cOrangeCurveX.map(xC), cOrangeCurveY.map(yC)), fill: 'none', stroke: '#f7931e', 'stroke-width': 3.4});
  
  
}

/* ---------- panel D traces ---------- */
const yV = v => 970 - (v + 40) * 4.62;
const xMs = t => 370.7 + t * .933;
function traceD(values, spikes) {
  const xs = [], ys = [];
  let s = 0;
  values.forEach((v, i) => {
    const t = i * traceStepMs;
    while (s < spikes.length && spikes[s] < t) {
      const st = spikes[s];
      xs.push(xMs(st - 1.4), xMs(st - .4), xMs(st + .4), xMs(st + 1.6));
      ys.push(yV(-40), yV(-25), yV(-25), yV(-41));
      s++;
    }
    xs.push(xMs(t));
    ys.push(yV(v));
  });
  return polyD(xs, ys);
}
{
  const defs = add($('traces'), 'clipPath', {id: 'traceClip'});
  add(defs, 'rect', {x: 365, y: 924, width: 480, height: 240});
  const ax = add($('traces'), 'path', {fill: 'none', stroke: '#231f20', 'stroke-width': 2, d: 'M378 924H370.700V1155H464V1150'});
  
  
  voltageTicks.forEach(v => {
    const tk = add($('traces'), 'line', {x1: 370.7, x2: 378, y1: yV(v), y2: yV(v), stroke: '#231f20', 'stroke-width': 1.5});
    
    
  });
  const g = add($('traces'), 'g', {'clip-path': 'url(#traceClip)', fill: 'none', 'stroke-width': 3, 'stroke-linejoin': 'round'});
  
  
  const c = add(g, 'path', {d: traceD(traceCyan, cyanSpikeTimes), stroke: '#4fc3e8'});
  
  
  const t = add(g, 'path', {d: traceD(traceTeal, tealSpikeTimes), stroke: '#0e87a5'});
  
  
  const p = add(g, 'path', {d: traceD(tracePurple, []), stroke: '#5b59ad'});
  
  
  const n = add(g, 'path', {d: traceD(traceNavy, []), stroke: '#2e3192'});
  
  
}

/* ---------- panel D side distribution ---------- */
const xDens = p => 880 + p / .3 * 143;
{
  const band = add($('sideDist'), 'rect', {x: 880, y: yV(sideThresholdBand[0]), width: 143, height: yV(sideThresholdBand[1]) - yV(sideThresholdBand[0]), fill: '#e4dff0'});
  
  
  const line = add($('sideDist'), 'line', {x1: 880, x2: 1023, y1: yV(sideThreshold), y2: yV(sideThreshold), stroke: '#662d91', 'stroke-width': 1.5});
  
  
  const xs = sideDensity.map(xDens), ys = sideVoltage.map(yV);
  const curve = smoothD(xs, ys);
  const tail = add($('sideDist'), 'path', {d: 'M990 997L1016 1000L990 1003Z', fill: '#c5e6f0'});
  
  
  const fill = add($('sideDist'), 'path', {d: curve + 'Z', fill: '#a9d9ea'});
  
  
  const st = add($('sideDist'), 'path', {d: curve, fill: 'none', stroke: '#000', 'stroke-width': 2.6});
  
  
  const ax = add($('sideDist'), 'path', {fill: 'none', stroke: '#231f20', 'stroke-width': 1.8, d: 'M880 930V1155H1023V1151'});
  
  
  [.1, .2].forEach(p => {
    const tk = add($('sideDist'), 'line', {x1: xDens(p), x2: xDens(p), y1: 1155, y2: 1151, stroke: '#231f20', 'stroke-width': 1.2});
    
    
  });
}

/* ---------- panel E ---------- */
const xE = v => 176 + (v + 80) * 14.73;
const yE = p => 1790 - p * 4400;
{
  const band = add($('chartE'), 'rect', {x: xE(eThresholdBand[0]), y: 1349, width: xE(eThresholdBand[1]) - xE(eThresholdBand[0]), height: 448, fill: '#e5e0f0'});
  
  
  eBinCenters.forEach((c, i) => {
    const el = add($('chartE'), 'rect', {x: xE(c - eBinWidth / 2), y: yE(eBinHeights[i]), width: eBinWidth * 14.73, height: eBinHeights[i] * 4400, fill: '#8781bd'});
    
    
  });
  const th = add($('chartE'), 'line', {x1: xE(eThreshold), x2: xE(eThreshold), y1: 1350, y2: 1790, stroke: '#662d91', 'stroke-width': 1.2});
  
  
  const ax = add($('chartE'), 'path', {fill: 'none', stroke: '#414042', 'stroke-width': 1.6, d: 'M176 1350V1790H911'});
  
  
  [.01, .02, .03, .04, .05, .06, .07, .08, .09, .1].forEach(p => {
    const tk = add($('chartE'), 'line', {x1: 176, x2: 182, y1: yE(p), y2: yE(p), stroke: '#414042', 'stroke-width': 1.2});
    
    
  });
  [-76, -72, -68, -64, -60, -56, -52, -48, -44, -40, -36, -32].forEach(v => {
    const tk = add($('chartE'), 'line', {x1: xE(v), x2: xE(v), y1: 1790, y2: 1785, stroke: '#414042', 'stroke-width': 1.2});
    
    
  });
  const curve = add($('chartE'), 'path', {d: smoothD(eCurveX.map(xE), eCurveY.map(yE)), fill: 'none', stroke: '#2e3192', 'stroke-width': 6.5});
  
  
}

/* ---------- panels F and G ---------- */
const xF = v => 1260 + (v + 80) * 8.48;
const yF = r => 1220.7 - r * 17;
const xG = v => 1258 + (v + 80) * 8.52;
const yG = s => 1784.5 - s * 56.2;
function crossD(x, y) {
  const h = 5.6;
  return 'M' + (x - h) + ' ' + (y - h) + 'L' + (x + h) + ' ' + (y + h) + 'M' + (x - h) + ' ' + (y + h) + 'L' + (x + h) + ' ' + (y - h);
}
{
  const ax = add($('chartF'), 'path', {fill: 'none', stroke: '#58595b', 'stroke-width': 1.7, d: 'M1265 880.700H1260V1220.700H1684'});
  
  
  [5, 10, 15].forEach(r => {
    const tk = add($('chartF'), 'line', {x1: 1260, x2: 1265, y1: yF(r), y2: yF(r), stroke: '#58595b', 'stroke-width': 1.3});
    
    
  });
  voltageAxisTicks.forEach(v => {
    const tk = add($('chartF'), 'line', {x1: xF(v), x2: xF(v), y1: 1220.7, y2: 1216, stroke: '#58595b', 'stroke-width': 1.3});
    
    
  });
  const th = add($('chartF'), 'line', {x1: xF(popThreshold), x2: xF(popThreshold), y1: 880.7, y2: 1222, stroke: '#662d91', 'stroke-width': 3});
  
  
  fCrossV.forEach((v, i) => {
    const el = add($('chartF'), 'path', {d: crossD(xF(v), yF(fCrossRate[i])), fill: 'none', stroke: '#2e3192', 'stroke-width': 3.3});
    
    
  });
  fCircleV.forEach((v, i) => {
    const el = add($('chartF'), 'circle', {cx: xF(v), cy: yF(fCircleRate[i]), r: 7.3, fill: 'none', stroke: '#2e3192', 'stroke-width': 3.3});
    
    
  });

  const axG = add($('chartG'), 'path', {fill: 'none', stroke: '#58595b', 'stroke-width': 1.7, d: 'M1258 1447V1784.500H1684'});
  
  
  [1, 2, 3, 4, 5].forEach(s => {
    const tk = add($('chartG'), 'line', {x1: 1258, x2: 1263, y1: yG(s), y2: yG(s), stroke: '#58595b', 'stroke-width': 1.3});
    
    
  });
  voltageAxisTicks.forEach(v => {
    const tk = add($('chartG'), 'line', {x1: xG(v), x2: xG(v), y1: 1784.5, y2: 1780, stroke: '#58595b', 'stroke-width': 1.3});
    
    
  });
  const thG = add($('chartG'), 'line', {x1: xG(popThreshold), x2: xG(popThreshold), y1: 1454, y2: 1784.5, stroke: '#662d91', 'stroke-width': 3});
  
  
  gCrossV.forEach((v, i) => {
    const el = add($('chartG'), 'path', {d: crossD(xG(v), yG(gCrossSd[i])), fill: 'none', stroke: '#2e3192', 'stroke-width': 3.3});
    
    
  });
  gCircleV.forEach((v, i) => {
    const el = add($('chartG'), 'circle', {cx: xG(v), cy: yG(gCircleSd[i]), r: 7.3, fill: 'none', stroke: '#2e3192', 'stroke-width': 3.3});
    
    
  });
  const fit = add($('chartG'), 'line', {x1: xG(gFitV[0]), x2: xG(gFitV[1]), y1: yG(gFitSd[0]), y2: yG(gFitSd[1]), stroke: '#ed1c24', 'stroke-width': 2.8});
  
  
}

document.querySelectorAll('text[textLength]').forEach(t => t.setAttribute('lengthAdjust', 'spacingAndGlyphs'));
</script>
</body>
</html>
